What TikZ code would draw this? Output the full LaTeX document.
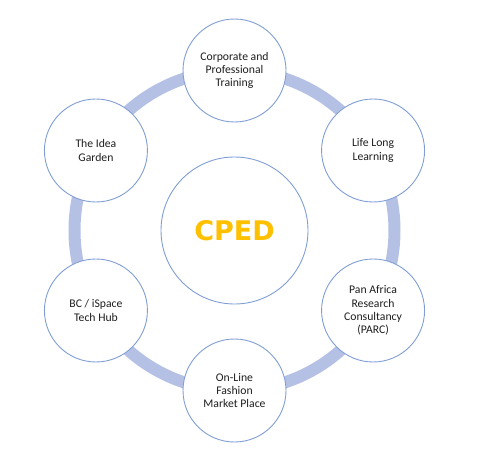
\documentclass[tikz,border=0pt]{standalone}
\usepackage{fontspec}
\usetikzlibrary{calc}
\setmainfont{Carlito}
\newfontfamily\cpedfont{DejaVu Sans}
\definecolor{ringc}{RGB}{180,193,228}
\definecolor{edgec}{RGB}{128,158,214}
\definecolor{cpedc}{RGB}{255,192,0}
\definecolor{textc}{RGB}{30,30,30}
\begin{document}
\begin{tikzpicture}[x=1pt,y=1pt,
  outer/.style={circle,draw=edgec,line width=0.9pt,fill=white,minimum size=103pt,inner sep=0pt,align=center,text=textc,font=\fontsize{11.7}{13.2}\selectfont},
  inner/.style={circle,draw=edgec,line width=0.9pt,fill=white,minimum size=147pt,inner sep=0pt,text=cpedc,font=\cpedfont\bfseries\fontsize{27}{32}\selectfont}]
\useasboundingbox (0,0) rectangle (480,-460);
\coordinate (c) at (234.5,-230.5);
\draw[ringc,line width=12pt] (c) circle (160);
\node[inner] (cped) at (c) {CPED};
\node[outer] (n1) at ($(c)+(90:160)$) {Corporate and\\Professional\\Training};
\node[outer] (n2) at ($(c)+(30:160)$) {Life Long\\Learning};
\node[outer] (n3) at ($(c)+(-30:160)$) {Pan Africa\\Research\\Consultancy\\(PARC)};
\node[outer] (n4) at ($(c)+(-90:160)$) {On-Line\\Fashion\\Market Place};
\node[outer] (n5) at ($(c)+(-150:160)$) {BC / iSpace\\Tech Hub};
\node[outer] (n6) at ($(c)+(150:160)$) {The Idea\\Garden};
\end{tikzpicture}
\end{document}
